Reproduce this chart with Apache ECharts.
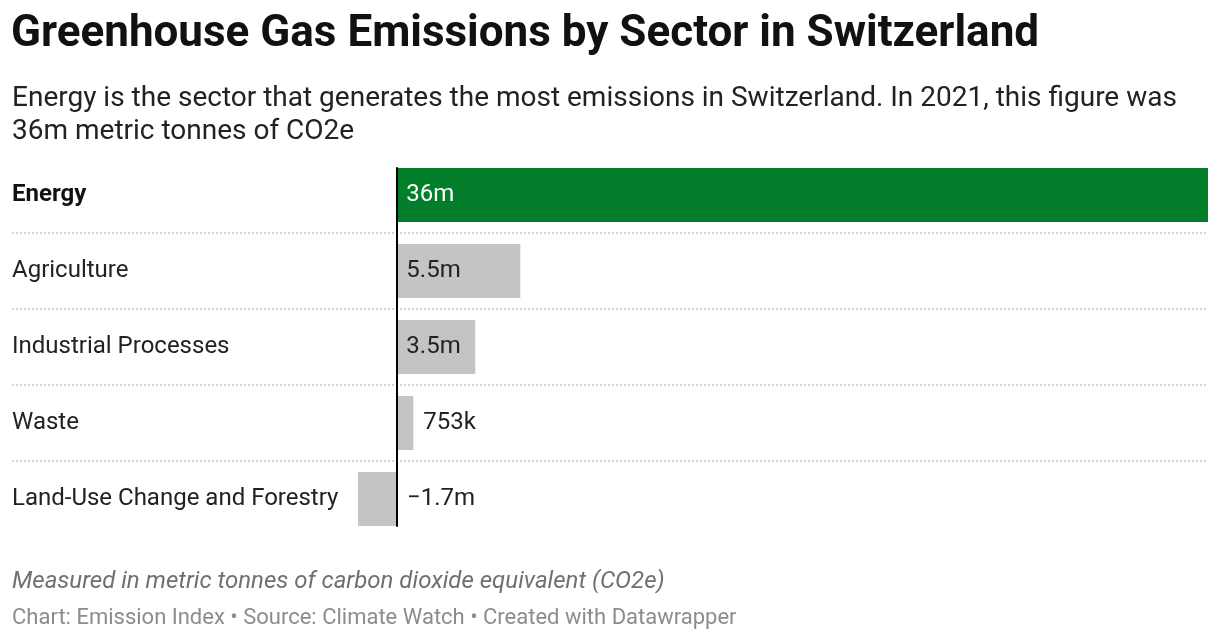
<!DOCTYPE html>
<html>
<head>
<meta charset="utf-8">
<script src="https://cdn.jsdelivr.net/npm/echarts@6/dist/echarts.min.js"></script>
<style>
  html, body { margin: 0; padding: 0; background: #fff; }
  #chart { width: 1220px; height: 640px; }
</style>
</head>
<body>
<div id="chart"></div>
<script>
// data, million tonnes CO2e (2021)
var sectors = ['Energy', 'Agriculture', 'Industrial Processes', 'Waste', 'Land-Use Change and Forestry'];
var emissions = [36, 5.5, 3.5, 0.753, -1.7];
var highlight = 'Energy';

var titleText = 'Greenhouse Gas Emissions by Sector in Switzerland';
var subText = 'Energy is the sector that generates the most emissions in Switzerland. In 2021, this figure was\n36m metric tonnes of CO2e';
var noteText = 'Measured in metric tonnes of carbon dioxide equivalent (CO2e)';
var sourceText = 'Chart: Emission Index \u2022 Source: Climate Watch \u2022 Created with Datawrapper';

var font = 'Roboto';

function fmt(v) {
  if (Math.abs(v) < 1) return Math.round(v * 1000) + 'k';
  return (v < 0 ? '\u2212' : '') + Math.abs(v) + 'm';
}

var barData = emissions.map(function (v, i) {
  var item = {
    value: v,
    itemStyle: { color: sectors[i] === highlight ? '#037f2c' : '#c4c4c4' }
  };
  if (sectors[i] === highlight) {
    item.label = { color: '#ffffff' };
  } else if (v < 0) {
    // label sits just right of the zero line
    item.label = { position: [49, '50%'], verticalAlign: 'middle' };
  } else if (v < 1) {
    item.label = { position: 'right', distance: 10 };
  }
  return item;
});

var chartDom = document.getElementById('chart');
var myChart = echarts.init(chartDom);

var option = {
  backgroundColor: '#ffffff',
  animation: false,
  title: [
    {
      text: titleText,
      left: 11, top: 13, padding: 0,
      textStyle: { fontFamily: font, fontWeight: 'bold', fontSize: 44, color: '#111', lineHeight: 44 }
    },
    {
      text: subText,
      left: 12, top: 82, padding: 0,
      textStyle: { fontFamily: font, fontWeight: 'normal', fontSize: 28, color: '#222', lineHeight: 33 }
    },
    {
      text: noteText,
      left: 12, top: 570, padding: 0,
      textStyle: { fontFamily: font, fontWeight: 'normal', fontStyle: 'italic', fontSize: 24, color: '#707070', lineHeight: 24 }
    },
    {
      text: sourceText,
      left: 12, top: 607, padding: 0,
      textStyle: { fontFamily: font, fontWeight: 'normal', fontSize: 22, color: '#8c8c8c', lineHeight: 22 }
    }
  ],
  grid: [
    { left: 358, right: 12, top: 157, bottom: 103, outerBoundsMode: 'none' },
    { left: 12, right: 12, top: 157, bottom: 103, outerBoundsMode: 'none' },
    { left: 358, right: 12, top: 168, bottom: 114, outerBoundsMode: 'none' }
  ],
  xAxis: [
    { gridIndex: 0, type: 'value', min: -1.7, max: 36, show: false },
    { gridIndex: 1, type: 'value', min: 0, max: 1, show: false },
    { gridIndex: 2, type: 'value', min: -1.7, max: 36, show: false }
  ],
  yAxis: [
    {
      gridIndex: 0,
      type: 'category',
      inverse: true,
      data: sectors.map(function (s) {
        return s === highlight ? { value: s, textStyle: { fontWeight: 'bold', color: '#111', align: 'left' } } : s;
      }),
      axisLine: { show: false, onZero: false },
      axisTick: { show: false },
      splitLine: { show: false },
      axisLabel: {
        align: 'left',
        margin: 346,
        fontFamily: font,
        fontSize: 24,
        color: '#222'
      }
    },
    {
      gridIndex: 1,
      type: 'category',
      inverse: true,
      data: sectors,
      axisLine: { show: false, onZero: false },
      axisTick: { show: false },
      axisLabel: { show: false },
      splitLine: {
        show: true,
        showMinLine: false,
        showMaxLine: false,
        lineStyle: { color: '#d6d6d6', width: 2, type: [2, 2] }
      }
    },
    {
      gridIndex: 2,
      type: 'category',
      inverse: true,
      data: sectors,
      z: 10,
      axisLine: { show: true, onZero: true, lineStyle: { color: '#000', width: 2 } },
      axisTick: { show: false },
      axisLabel: { show: false },
      splitLine: { show: false }
    }
  ],
  series: [
    {
      type: 'bar',
      xAxisIndex: 0,
      yAxisIndex: 0,
      barWidth: 54,
      data: barData,
      label: {
        show: true,
        position: 'insideLeft',
        distance: 10,
        fontFamily: font,
        fontSize: 24,
        color: '#222',
        formatter: function (p) { return fmt(p.value); }
      }
    }
  ]
};

myChart.setOption(option);

window.onresize = () => {
  myChart.resize();
};
</script>
</body>
</html>
